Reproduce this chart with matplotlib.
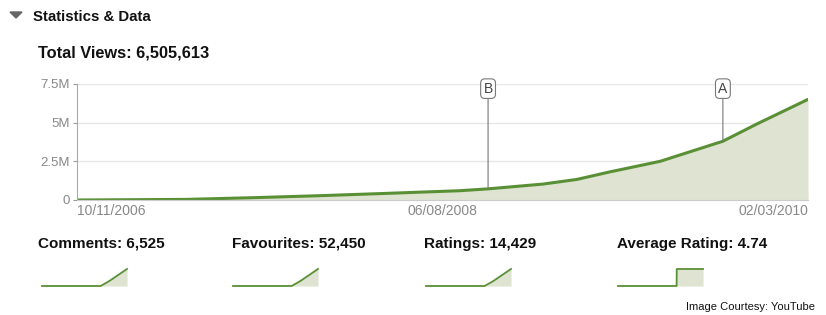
import matplotlib
matplotlib.use("Agg")
import matplotlib.pyplot as plt
import matplotlib.dates as mdates
import numpy as np
from matplotlib.patches import Polygon

plt.rcParams["font.family"] = ["Liberation Sans", "DejaVu Sans"]

# total views over time
view_dates = ["2006-10-11", "2007-04-11", "2007-07-30", "2007-11-18", "2008-03-08",
              "2008-07-06", "2008-08-22", "2008-11-21", "2009-01-16", "2009-03-12",
              "2009-06-03", "2009-09-15", "2009-11-10", "2010-02-03"]
view_values = [0, 0.04e6, 0.15e6, 0.28e6, 0.43e6,
               0.60e6, 0.72e6, 1.03e6, 1.33e6, 1.82e6,
               2.50e6, 3.80e6, 4.91e6, 6505613]
total_views = 6505613

y_ticks = [0, 2.5e6, 5e6, 7.5e6]
y_tick_labels = ["0", "2.5M", "5M", "7.5M"]
x_tick_dates = ["2006-10-11", "2008-06-08", "2010-02-03"]
x_tick_labels = ["10/11/2006", "06/08/2008", "02/03/2010"]

marker_labels = ["B", "A"]
marker_dates = ["2008-08-22", "2009-09-15"]
marker_values = [0.72e6, 3.80e6]

# small sparklines
spark_titles = ["Comments: 6,525", "Favourites: 52,450", "Ratings: 14,429", "Average Rating: 4.74"]
spark_dates = ["2006-10-11", "2009-01-23", "2009-03-10", "2009-06-01", "2010-02-03"]
comments = [0, 0, 700, 2000, 6525]
favourites = [0, 0, 5500, 16000, 52450]
ratings = [0, 0, 1550, 4400, 14429]
rating_dates = ["2006-10-11", "2009-01-23", "2009-01-25", "2010-02-03"]
avg_rating = [0, 0, 4.74, 4.74]

line_color = "#5a9035"
fill_color = "#dfe3d2"
W, H = 826, 315


def fpos(x, y):
    return x / W, 1 - y / H


def to_dates(lst):
    return mdates.datestr2num(lst)


fig = plt.figure(figsize=(W / 100, H / 100), dpi=100)

# header
tri = Polygon([fpos(10, 12), fpos(22, 12), fpos(16, 18)], closed=True,
              transform=fig.transFigure, color="#666666")
fig.patches.append(tri)
fig.text(*fpos(33, 17), "Statistics & Data", fontsize=10.8, fontweight="bold",
         va="center", ha="left", color="#111111")
fig.text(*fpos(38, 53), f"Total Views: {total_views:,}", fontsize=11.8, fontweight="bold",
         va="center", ha="left", color="#111111")

# main chart
ax = fig.add_axes([77 / W, 1 - 200 / H, 731 / W, 116 / H])
xd = to_dates(view_dates)
ax.fill_between(xd, view_values, 0, color=fill_color, lw=0)
ax.plot(xd, view_values, color=line_color, lw=2.2, solid_capstyle="round")

ax.set_xlim(to_dates(["2006-10-11"])[0], to_dates(["2010-02-03"])[0])
ax.set_ylim(0, 7.5e6)
ax.set_yticks(y_ticks)
ax.set_yticklabels(y_tick_labels)
ax.set_xticks(to_dates(x_tick_dates))
ax.set_xticklabels(x_tick_labels)
xl = ax.get_xticklabels()
xl[0].set_ha("left")
xl[-1].set_ha("right")
ax.tick_params(axis="x", length=0, pad=3, labelsize=10, labelcolor="#888888")
ax.tick_params(axis="y", length=3, width=0.8, color="#999999", pad=2,
               labelsize=9.5, labelcolor="#888888")
ax.grid(axis="y", color="#e6e6e6", lw=1)
ax.set_axisbelow(True)
for s in ["top", "right"]:
    ax.spines[s].set_visible(False)
ax.spines["left"].set_color("#aaaaaa")
ax.spines["bottom"].set_color("#cccccc")

for lab, d, v in zip(marker_labels, to_dates(marker_dates), marker_values):
    ax.annotate(lab, xy=(d, v), xytext=(d, 7.2e6), ha="center", va="center",
                fontsize=10, color="#444444",
                bbox=dict(boxstyle="round,pad=0.2,rounding_size=0.3", fc="white",
                          ec="#777777", lw=0.8),
                arrowprops=dict(arrowstyle="-", color="#777777", lw=0.8,
                                shrinkA=0, shrinkB=0))

# sparklines
spark_series = [(spark_dates, comments), (spark_dates, favourites),
                (spark_dates, ratings), (rating_dates, avg_rating)]
spark_left = [42, 233, 426, 618]
title_left = [38, 232, 424, 617]
for title, (ds, vals), x0, tx in zip(spark_titles, spark_series, spark_left, title_left):
    fig.text(*fpos(tx, 244), title, fontsize=11, fontweight="bold",
             va="center", ha="left", color="#111111")
    sax = fig.add_axes([x0 / W, 1 - 286 / H, 85 / W, 17 / H])
    sd = to_dates(ds)
    sax.fill_between(sd, vals, 0, color=fill_color, lw=0)
    sax.plot(sd, vals, color=line_color, lw=1.3, clip_on=False)
    sax.set_xlim(sd[0], sd[-1])
    sax.set_ylim(0, max(vals))
    sax.axis("off")

fig.text(*fpos(815, 307), "Image Courtesy: YouTube", fontsize=8,
         va="center", ha="right", color="#111111")

fig.savefig("out.png", dpi=100, facecolor="white")
